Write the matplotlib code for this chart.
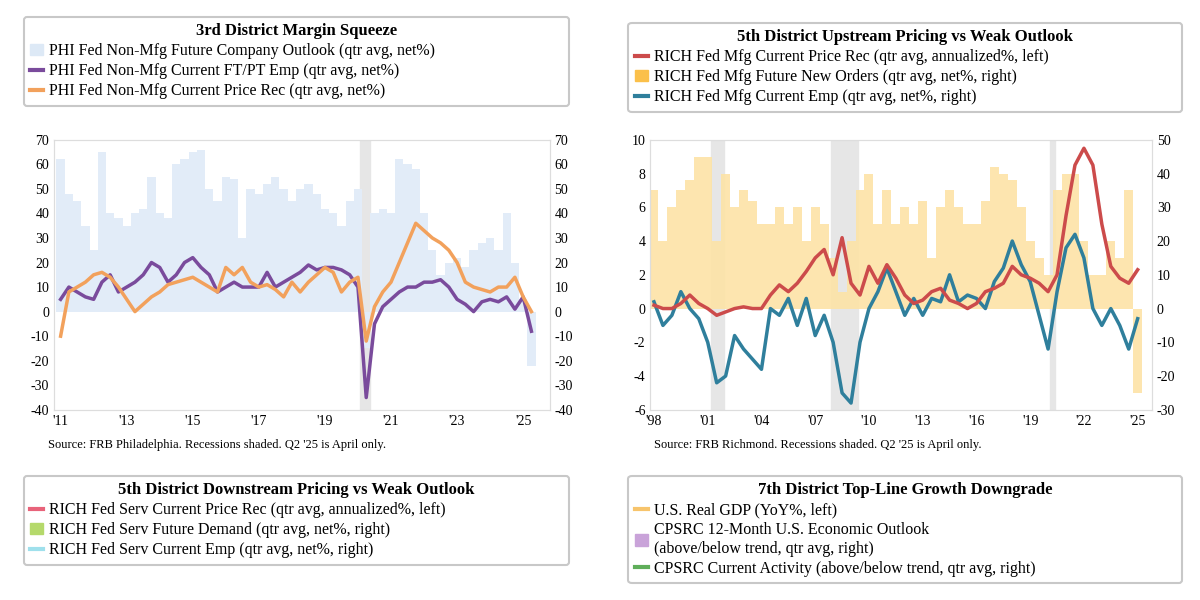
import numpy as np
import matplotlib
matplotlib.use("Agg")
import matplotlib.pyplot as plt
from matplotlib.patches import Patch
from matplotlib.lines import Line2D

plt.rcParams['font.family'] = ['Liberation Serif', 'DejaVu Serif']
plt.rcParams['axes.unicode_minus'] = False

# ---- Panel 1: 3rd District (quarterly 2011Q1..2025Q2)
p1_price = [-10,8,10,12, 15,16,14,10, 5,0,3,6, 8,11,12,13, 14,12,10,8, 18,15,18,12,
            10,11,9,6, 12,8,12,15, 18,16,8,12, 14,-12,2,8, 12,20,28,36, 33,30,28,25,
            20,12,10,9, 8,10,10,14, 6,0]
p1_emp = [5,10,8,6, 5,12,15,8, 10,12,15,20, 18,12,15,20, 22,18,15,8, 10,12,10,10,
          10,16,10,12, 14,16,19,17, 18,18,17,15, 10,-35,-5,2, 5,8,10,10, 12,12,13,10,
          5,3,0,4, 5,4,6,1, 6,-8]
p1_outlook = [62,48,45,35, 25,65,40,38, 35,40,42,55, 40,38,60,62, 65,66,50,45, 55,54,30,50,
              48,52,55,50, 45,50,52,48, 42,40,35,45, 50,-15,40,42, 40,62,60,58, 40,25,15,20,
              22,18,25,28, 30,25,40,20, 5,-22]
p1_ticks = ["'11","'13","'15","'17","'19","'21","'23","'25"]

# ---- Panel 2: 5th District (half-yearly 1998H1..2025H1)
p2_price = [0.2,0.0, 0.0,0.3, 0.8,0.3, 0.0,-0.4, -0.2,0.0, 0.1,0.0, 0.0,0.8, 1.4,1.0, 1.5,2.2,
            3.0,3.5, 2.0,4.2, 1.5,0.8, 2.5,1.5, 2.6,1.8, 0.8,0.3, 0.5,1.0, 1.2,0.5, 0.3,0.0,
            0.3,1.0, 1.2,1.5, 2.5,2.0, 1.8,1.5, 1.0,2.0, 5.5,8.5, 9.5,8.5, 5.0,2.5, 1.8,1.5, 2.3]
p2_emp = [2,-5, -2,5, 0,-3, -10,-22, -20,-8, -12,-15, -18,0, -2,3, -5,3, -8,-2, -10,-25,
          -28,-10, 0,5, 12,5, -2,3, -2,3, 2,10, 2,4, 3,0, 8,12, 20,13, 8,-2, -12,5,
          18,22, 15,0, -5,0, -5,-12, -3]
p2_orders = [35,20, 30,35, 38,45, 45,20, 40,30, 35,32, 25,25, 30,25, 30,20, 30,25, 15,5,
             20,35, 40,25, 35,25, 30,25, 32,15, 30,35, 30,25, 25,32, 42,40, 38,30, 20,15,
             10,35, 40,40, 20,10, 10,20, 15,35, -25]
p2_ticks = ["'98","'01","'04","'07","'10","'13","'16","'19","'22","'25"]

fig = plt.figure(figsize=(12, 6), dpi=100)

def legbox(handles, labels, title, x0, y0, w, h):
    leg = fig.legend(handles, labels, title=title, loc='upper left',
                     bbox_to_anchor=(x0, y0, w, h), mode='expand', fontsize=11.5,
                     title_fontproperties={'weight': 'bold', 'size': 12},
                     frameon=True, fancybox=True, edgecolor='#bbbbbb',
                     handlelength=0.8, handletextpad=0.4, borderpad=0.4, labelspacing=0.25)
    leg.get_frame().set_linewidth(1.5)
    return leg

# Panel 1
ax1 = fig.add_axes([0.045, 0.317, 0.413, 0.45])
x1 = 2011.0 + np.arange(len(p1_price)) * 0.25
ax1.axvspan(2020.05, 2020.35, color='#e6e6e6', zorder=0)
ax1.bar(x1, p1_outlook, width=0.25, color='#e2ecf8', zorder=1)
ax1.plot(x1, p1_emp, color='#7a4b9c', lw=2.5, zorder=3)
ax1.plot(x1, p1_price, color='#f2a15c', lw=2.5, zorder=4)
ax1.set_ylim(-40, 70); ax1.set_yticks(range(-40, 71, 10))
ax1.set_xlim(2010.8, 2025.8)
ax1.set_xticks(np.arange(2011, 2026, 2)); ax1.set_xticklabels(p1_ticks)
ax1r = ax1.twinx(); ax1r.set_ylim(-40, 70); ax1r.set_yticks(range(-40, 71, 10))
for a in (ax1, ax1r):
    a.tick_params(length=0, labelsize=10)
    for s in a.spines.values(): s.set_color('#dddddd')
fig.text(0.04, 0.253, "Source: FRB Philadelphia. Recessions shaded. Q2 '25 is April only.", fontsize=9)
legbox([Patch(color='#dde9f6'), Line2D([], [], color='#7a4b9c', lw=3), Line2D([], [], color='#f2a15c', lw=3)],
       ["PHI Fed Non-Mfg Future Company Outlook (qtr avg, net%)",
        "PHI Fed Non-Mfg Current FT/PT Emp (qtr avg, net%)",
        "PHI Fed Non-Mfg Current Price Rec (qtr avg, net%)"],
       "3rd District Margin Squeeze", 0.013, 0.79, 0.468, 0.195)

# Panel 2
ax2 = fig.add_axes([0.542, 0.317, 0.418, 0.45])
x2 = 1998.0 + np.arange(len(p2_price)) * 0.5
ax2r = ax2.twinx()
ax2.set_zorder(ax2r.get_zorder() + 1); ax2.patch.set_visible(False)
for a, b in [(2001.2, 2001.9), (2007.9, 2009.4), (2020.1, 2020.4)]:
    ax2r.axvspan(a, b, color='#e6e6e6', zorder=0)
ax2r.bar(x2, p2_orders, width=0.5, color='#fde3a6', alpha=0.9, zorder=1)
ax2r.plot(x2, p2_emp, color='#2f7f9c', lw=2.5, zorder=3)
ax2.plot(x2, p2_price, color='#cc4b4b', lw=2.5, zorder=4)
ax2.set_ylim(-6, 10); ax2.set_yticks(range(-6, 11, 2))
ax2r.set_ylim(-30, 50); ax2r.set_yticks(range(-30, 51, 10))
ax2.set_xlim(1997.8, 2025.8)
ax2.set_xticks(np.arange(1998, 2026, 3)); ax2.set_xticklabels(p2_ticks)
for a in (ax2, ax2r):
    a.tick_params(length=0, labelsize=10)
    for s in a.spines.values(): s.set_color('#dddddd')
fig.text(0.545, 0.253, "Source: FRB Richmond. Recessions shaded. Q2 '25 is April only.", fontsize=9)
legbox([Line2D([], [], color='#cc4b4b', lw=3), Patch(color='#fbc04a'), Line2D([], [], color='#2f7f9c', lw=3)],
       ["RICH Fed Mfg Current Price Rec (qtr avg, annualized%, left)",
        "RICH Fed Mfg Future New Orders (qtr avg, net%, right)",
        "RICH Fed Mfg Current Emp (qtr avg, net%, right)"],
       "5th District Upstream Pricing vs Weak Outlook", 0.517, 0.78, 0.475, 0.195)

# Bottom legend boxes (charts below are cut off)
legbox([Line2D([], [], color='#e8637a', lw=3), Patch(color='#b5d96b'), Line2D([], [], color='#9fe0ec', lw=3)],
       ["RICH Fed Serv Current Price Rec (qtr avg, annualized%, left)",
        "RICH Fed Serv Future Demand (qtr avg, net%, right)",
        "RICH Fed Serv Current Emp (qtr avg, net%, right)"],
       "5th District Downstream Pricing vs Weak Outlook", 0.013, -0.04, 0.468, 0.26)
legbox([Line2D([], [], color='#f7c46c', lw=3), Patch(color='#c9a3d9'), Line2D([], [], color='#5fae5a', lw=3)],
       ["U.S. Real GDP (YoY%, left)",
        "CPSRC 12-Month U.S. Economic Outlook\n(above/below trend, qtr avg, right)",
        "CPSRC Current Activity (above/below trend, qtr avg, right)"],
       "7th District Top-Line Growth Downgrade", 0.517, -0.04, 0.475, 0.26)

fig.savefig("out.png", dpi=100)
